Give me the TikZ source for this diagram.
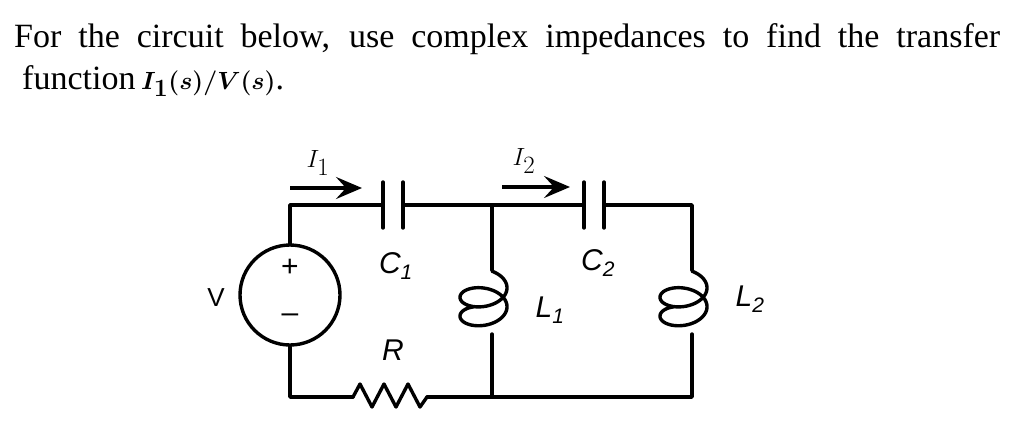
\documentclass[tikz,border=0pt]{standalone}
\usepackage{fontspec}
\usepackage{amsmath}
\setmainfont{Liberation Serif}
\newfontfamily\lab{Liberation Sans}
\usetikzlibrary{arrows.meta}
\begin{document}
\begin{tikzpicture}[x=1pt,y=-1pt,
  w/.style={line width=3.4pt,line cap=round,line join=round},
  cl/.style={font=\lab\itshape\fontsize{30}{30}\selectfont,inner sep=0pt},
  il/.style={font=\fontsize{34}{34}\selectfont,inner sep=0pt},
  cur/.style={line width=3.4pt,-{Stealth[length=26pt,width=22pt,inset=10pt]}}]
\useasboundingbox (0,0) rectangle (1024,436);
\node[anchor=base west,inner sep=0pt,font=\fontsize{34}{40}\selectfont] (t1) at (14,48)
  {\makebox[986pt][s]{For the circuit below, use complex impedances to find the transfer}};
\node[anchor=base west,inner sep=0pt,font=\fontsize{34}{40}\selectfont] (t2) at (22,89)
  {function\,$\boldsymbol{I_1(s)/V(s)}$.};
% coordinates
\coordinate (tl) at (290,205); \coordinate (bl) at (290,397);
\coordinate (tm) at (492,205); \coordinate (bm) at (492,397);
\coordinate (tr) at (692,205); \coordinate (br) at (692,397);
\coordinate (c1a) at (383,205); \coordinate (c1b) at (403,205);
\coordinate (c2a) at (584,205); \coordinate (c2b) at (604,205);
\coordinate (ra) at (353,397); \coordinate (rb) at (427,397);
\node[circle,draw,line width=3.4pt,minimum size=100pt,inner sep=0pt] (V) at (290,295) {};
% wires
\draw[w] (V.north) -- (tl) -- (c1a);
\draw[w] (c1a |- 0,182) -- (c1a |- 0,228);
\draw[w] (c1b |- 0,182) -- (c1b |- 0,228);
\draw[w] (c1b) -- (tm) -- (c2a);
\draw[w] (c2a |- 0,182) -- (c2a |- 0,228);
\draw[w] (c2b |- 0,182) -- (c2b |- 0,228);
\draw[w] (c2b) -- (tr) -- (692,270);
\draw[w] (V.south) -- (bl) -- (ra);
\draw[w] (ra) -- (360,384) -- (372,407) -- (384,384) -- (396,407) -- (408,384) -- (420,407) -- (rb);
\draw[w] (rb) -- (bm) -- (br) -- (692,334);
\draw[w] (tm) -- (492,270);
\draw[w] (bm) -- (492,334);
% inductors
\draw[w] plot[domain=-69:609,samples=160,smooth] ({483.5+23.5*cos(\x)},{302+3*rad(\x-270)+14*sin(\x)});
\draw[w] plot[domain=-69:609,samples=160,smooth] ({683.5+23.5*cos(\x)},{302+3*rad(\x-270)+14*sin(\x)});
% current arrows
\coordinate (a1s) at (290,188); \coordinate (a1e) at (362,188);
\coordinate (a2s) at (502,187); \coordinate (a2e) at (570,187);
\draw[cur] (a1s) -- (a1e);
\draw[cur] (a2s) -- (a2e);
% labels
\node[il] (I1) at (318,163) {$I_1$};
\node[il] (I2) at (524,161) {$I_2$};
\node[cl] (C1) at (396,266) {C\textsubscript{1}};
\node[cl] (C2) at (598,263) {C\textsubscript{2}};
\node[cl] (L1) at (550,310) {L\textsubscript{1}};
\node[cl] (L2) at (750,299) {L\textsubscript{2}};
\node[cl] (R) at (393,350) {R};
\node[cl,font=\lab\fontsize{26}{26}\selectfont] (Vl) at (216,298) {V};
\node[inner sep=0pt,font=\lab\fontsize{30}{30}\selectfont] (plus) at (290,268) {+};
\node[inner sep=0pt,font=\lab\fontsize{30}{30}\selectfont] (minus) at (290,318) {\textendash};
\end{tikzpicture}
\end{document}
